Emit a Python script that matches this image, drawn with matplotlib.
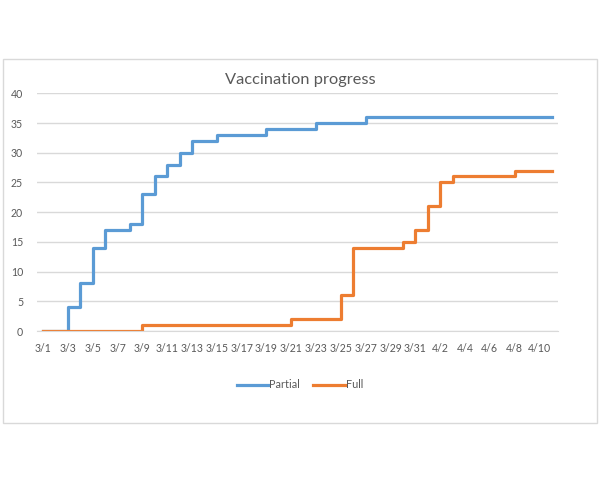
import numpy as np
import matplotlib
matplotlib.use("Agg")
from matplotlib import pyplot as plt
from matplotlib.patches import Rectangle

# dates 3/1 .. 4/11
dates = [f"3/{d}" for d in range(1, 32)] + [f"4/{d}" for d in range(1, 12)]

partial = [0, 0, 4, 8, 14, 17, 17, 18, 23, 26, 28, 30, 32, 32, 33, 33, 33, 33,
           34, 34, 34, 34, 35, 35, 35, 35, 36, 36, 36, 36, 36,
           36, 36, 36, 36, 36, 36, 36, 36, 36, 36, 36]
full = [0, 0, 0, 0, 0, 0, 0, 0, 1, 1, 1, 1, 1, 1, 1, 1, 1, 1, 1, 1,
        2, 2, 2, 2, 6, 14, 14, 14, 14, 15, 17,
        21, 25, 26, 26, 26, 26, 26, 27, 27, 27, 27]

text_color = "#595959"
grid_color = "#D9D9D9"
plt.rcParams['font.family'] = ['Lato', 'DejaVu Sans']

fig = plt.figure(figsize=(6, 4.8), dpi=100)
fig.patch.set_facecolor("white")

# chart area border
fig.patches.append(Rectangle((3 / 600, 1 - 423 / 480), 594 / 600, 364 / 480,
                             transform=fig.transFigure, fill=False,
                             edgecolor=grid_color, linewidth=1))

ax = fig.add_axes([37 / 600, 1 - 331 / 480, 521 / 600, 237.7 / 480])
x = np.arange(len(dates))
ax.step(x, partial, where="post", color="#5B9BD5", linewidth=2.3, label="Partial")
ax.step(x, full, where="post", color="#ED7D31", linewidth=2.3, label="Full")

ax.set_xlim(-0.5, len(dates) - 0.5)
ax.set_ylim(0, 40)
ax.set_yticks(np.arange(0, 41, 5))
ax.set_xticks(x[::2])
ax.set_xticklabels(dates[::2])
ax.tick_params(length=0, labelsize=7.6, labelcolor=text_color)
ax.tick_params(axis="y", pad=10)
ax.tick_params(axis="x", pad=9)
ax.grid(True, axis="y", color=grid_color, linewidth=1)
ax.set_axisbelow(True)
for s in ["left", "right", "top"]:
    ax.spines[s].set_visible(False)
ax.spines["bottom"].set_color(grid_color)

fig.text(0.5, 1 - 80 / 480, "Vaccination progress", ha="center", va="center",
         fontsize=11.8, color=text_color)

fig.legend(loc="center", bbox_to_anchor=(0.5, 1 - 385 / 480), ncol=2,
           frameon=False, fontsize=7.8, labelcolor=text_color,
           handlelength=2.9, handletextpad=0.1, columnspacing=1.2)

fig.savefig("out.png", dpi=100, facecolor="white")
